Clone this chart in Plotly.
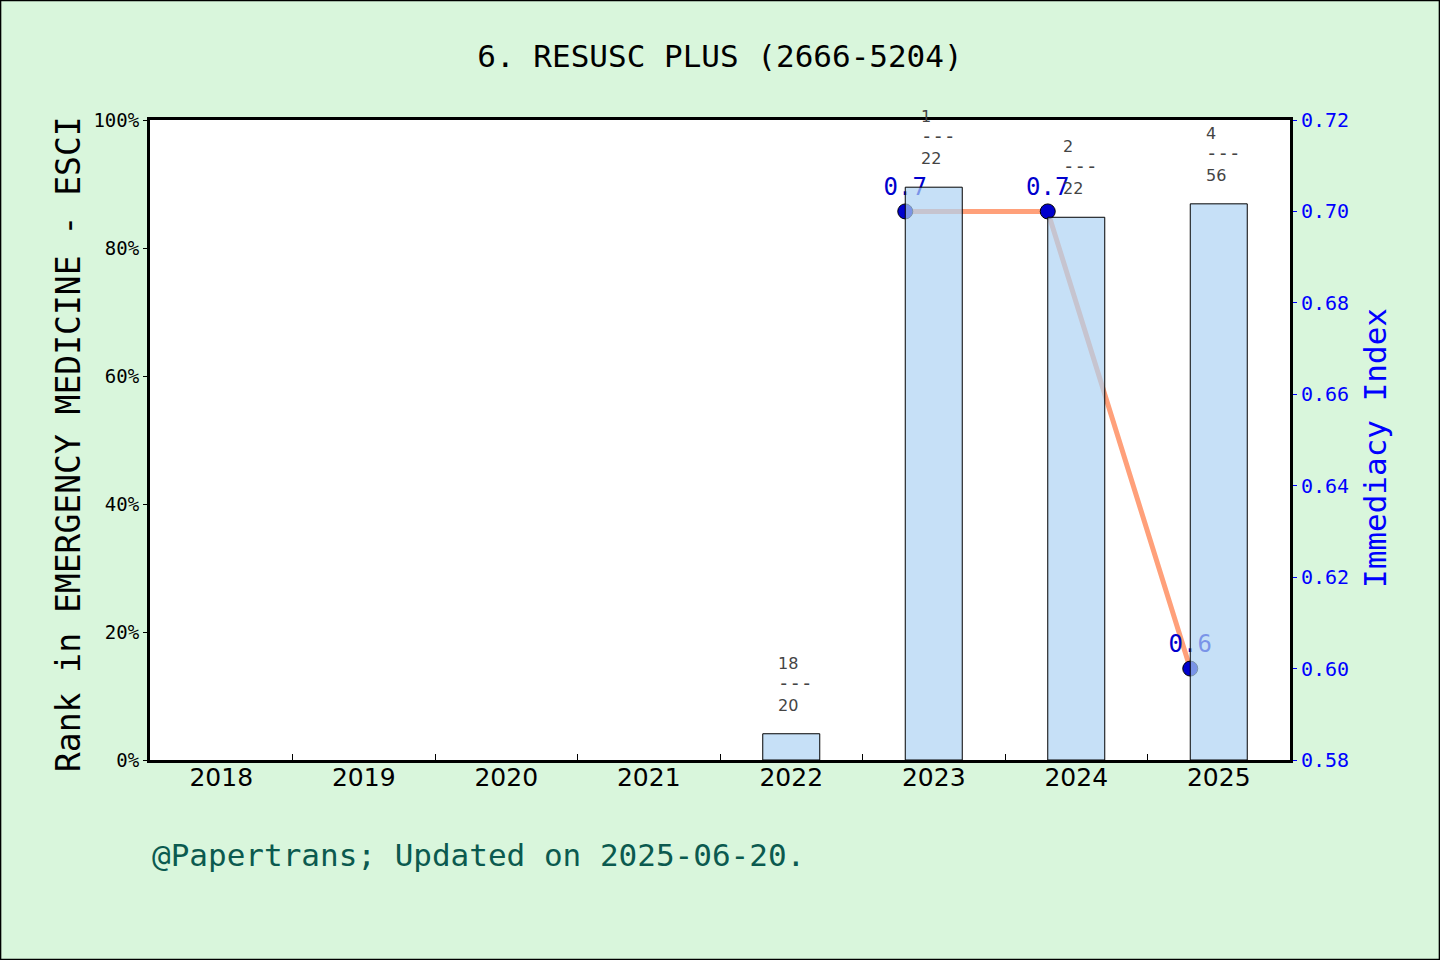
import plotly.graph_objects as go

# ---- data ----
years = [2018, 2019, 2020, 2021, 2022, 2023, 2024, 2025]
rank_pct = [None, None, None, None, 4.1, 89.5, 84.8, 86.9]
rank_num = [None, None, None, None, 18, 1, 2, 4]
rank_den = [None, None, None, None, 20, 22, 22, 56]
ii_years = [2023, 2024, 2025]
ii_values = [0.70, 0.70, 0.60]
title_text = "6. RESUSC PLUS (2666-5204)"
footer_text = "@Papertrans; Updated on 2025-06-20."
left_title = "Rank in EMERGENCY MEDICINE - ESCI"
right_title = "Immediacy Index"

MONO = "DejaVu Sans Mono"
BG = "#d9f6dc"

fig = go.Figure()

# Immediacy line (primary y, drawn first so bars sit on top)
fig.add_trace(go.Scatter(
    x=[y - 0.2 for y in ii_years], y=ii_values,
    mode="lines+markers+text",
    line=dict(color="#ffa07a", width=5),
    marker=dict(size=15, color="#0000cd", line=dict(color="black", width=1)),
    text=[f"{v:.1f}" for v in ii_values],
    textposition="top center",
    textfont=dict(family=MONO, size=24, color="#0000cd"),
    yaxis="y", xaxis="x", showlegend=False, cliponaxis=False, hoverinfo="skip",
))

# Rank bars (overlaying axis, drawn on top)
fig.add_trace(go.Bar(
    x=years, y=rank_pct, width=0.4,
    marker=dict(color="rgba(174,211,244,0.7)", line=dict(color="black", width=1)),
    yaxis="y2", xaxis="x", showlegend=False, hoverinfo="skip",
))

annotations = []
for yr, v, n, d in zip(years, rank_pct, rank_num, rank_den):
    if v is None:
        continue
    lab = f"{n}<br><span style='font-family:{MONO};font-size:19px'>---</span><br>{d}"
    annotations.append(dict(
        x=yr, y=v, xref="x", yref="y2", text=lab, showarrow=False,
        xanchor="left", yanchor="bottom", align="left", xshift=-15, yshift=17,
        font=dict(family="DejaVu Sans", size=16, color="#444444"),
    ))

annotations.append(dict(
    x=0, y=-0.148, xref="paper", yref="paper", text=footer_text, showarrow=False,
    xanchor="left", yanchor="middle",
    font=dict(family=MONO, size=31, color="#0b5a4f"),
))
annotations.append(dict(
    x=(68 - 150) / 1140, y=(760 - 444) / 640, xref="paper", yref="paper",
    text=left_title, showarrow=False, textangle=-90,
    xanchor="center", yanchor="middle",
    font=dict(family=MONO, size=33, color="black"),
))
annotations.append(dict(
    x=(1375 - 150) / 1140, y=(760 - 448) / 640, xref="paper", yref="paper",
    text=right_title, showarrow=False, textangle=-90,
    xanchor="center", yanchor="middle",
    font=dict(family=MONO, size=31, color="#0000ff"),
))

fig.update_layout(
    width=1440, height=960,
    margin=dict(l=150, r=150, t=120, b=200),
    paper_bgcolor=BG, plot_bgcolor="white",
    title=dict(text=title_text, x=0.5, xanchor="center", y=1 - 56 / 960, yanchor="middle",
               yref="container", font=dict(family=MONO, size=31, color="black")),
    xaxis=dict(
        range=[2017.5, 2025.5], tickmode="array", tickvals=years,
        ticktext=[str(y) for y in years], ticks="", ticklen=0, showgrid=False, zeroline=False,
        showline=True, linecolor="black", linewidth=3, mirror=True, ticklabelstandoff=-7,
        tickfont=dict(family="DejaVu Sans", size=25, color="black"),
        minor=dict(tickmode="array", tickvals=[y + 0.5 for y in years[:-1]],
                   ticks="inside", ticklen=6, tickcolor="black", tickwidth=1),
    ),
    yaxis=dict(
        side="right", range=[0.58, 0.72], tickmode="linear", tick0=0.58, dtick=0.02,
        tickformat=".2f", ticks="outside", ticklen=4, tickcolor="#0000ff",
        showgrid=False, zeroline=False, showline=True, linecolor="black", linewidth=3,
        tickfont=dict(family=MONO, size=20, color="#0000ff"),
    ),
    yaxis2=dict(
        overlaying="y", side="left", range=[0, 100], tickmode="linear", tick0=0, dtick=20,
        ticksuffix="%", ticks="outside", ticklen=4, tickcolor="black",
        showgrid=False, zeroline=False, showline=True, linecolor="black", linewidth=3,
        tickfont=dict(family=MONO, size=19, color="black"),
    ),
    annotations=annotations,
    shapes=[dict(type="rect", xref="paper", yref="paper",
                 x0=-150 / 1140 + 0.0005, x1=1290 / 1140 - 0.0005,
                 y0=-200 / 640 + 0.0008, y1=1 + 120 / 640 - 0.0008,
                 line=dict(color="black", width=1.5), layer="below")],
)

fig.write_html("out.html", config={"displayModeBar": False},
               post_script="document.body.style.margin='0';document.body.style.overflow='hidden';")
